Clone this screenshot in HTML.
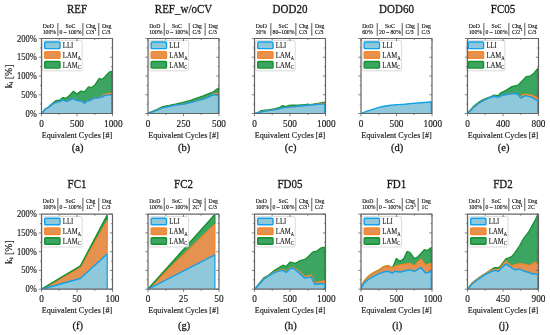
<!DOCTYPE html>
<html><head><meta charset="utf-8"><title>Degradation modes</title>
<style>html,body{margin:0;padding:0;background:#fff;}svg{display:block;}text{stroke:#1a1a1a;stroke-width:0.15px;}text.h{stroke-width:0.14px;fill:#111;stroke:#111;}text.l{stroke-width:0.1px;}text.t{stroke-width:0.28px;}</style></head>
<body><svg width="550" height="335" viewBox="0 0 550 335" font-family='"Liberation Serif", "Times New Roman", serif' fill="#1a1a1a" stroke-linejoin="round">
<rect width="550" height="335" fill="#fff"/>
<clipPath id="cpa"><rect x="41.5" y="38.5" width="71.0" height="75.0"/></clipPath>
<g clip-path="url(#cpa)">
<polygon points="41.6,113.5 41.6,113.4 42.0,113.2 45.2,109.0 48.3,107.2 51.4,104.2 56.1,100.4 59.3,100.4 62.9,97.5 66.1,98.3 69.7,95.1 73.4,91.3 77.0,94.1 80.9,91.0 84.4,91.9 88.5,86.9 91.5,87.7 95.1,84.7 99.3,78.4 101.7,79.6 104.7,76.9 108.9,72.4 111.8,71.2 111.8,71.2 111.8,113.5" fill="#3ca562"/>
<polygon points="41.6,113.5 41.6,113.4 42.0,113.2 45.2,109.2 48.3,107.4 51.4,105.1 54.6,102.8 57.7,102.1 60.3,101.4 62.4,99.8 66.6,101.4 70.2,99.8 73.4,98.6 76.5,100.4 79.6,100.8 82.0,101.4 84.4,103.2 86.8,101.2 90.3,100.2 95.1,97.9 98.7,97.6 101.7,96.2 103.5,94.6 107.1,93.9 111.8,93.1 111.8,113.5" fill="#e5914f"/>
<polygon points="41.6,113.5 41.6,113.4 42.0,113.2 45.2,109.2 48.3,107.4 51.4,105.1 54.6,102.8 57.7,102.1 60.3,101.4 62.4,99.8 66.6,101.4 70.2,99.8 73.4,98.6 76.5,100.4 79.6,100.8 82.0,101.4 84.4,103.2 86.8,101.2 90.3,100.2 95.1,97.9 98.7,97.9 101.7,97.0 104.7,95.5 108.3,94.9 111.8,94.6 111.8,113.5" fill="#8fc8da"/>
<polyline points="41.6,113.4 42.0,113.2 45.2,109.0 48.3,107.2 51.4,104.2 56.1,100.4 59.3,100.4 62.9,97.5 66.1,98.3 69.7,95.1 73.4,91.3 77.0,94.1 80.9,91.0 84.4,91.9 88.5,86.9 91.5,87.7 95.1,84.7 99.3,78.4 101.7,79.6 104.7,76.9 108.9,72.4 111.8,71.2 111.8,71.2" fill="none" stroke="#15902e" stroke-width="1.25" stroke-linejoin="round"/>
<polyline points="41.6,113.4 42.0,113.2 45.2,109.2 48.3,107.4 51.4,105.1 54.6,102.8 57.7,102.1 60.3,101.4 62.4,99.8 66.6,101.4 70.2,99.8 73.4,98.6 76.5,100.4 79.6,100.8 82.0,101.4 84.4,103.2 86.8,101.2 90.3,100.2 95.1,97.9 98.7,97.6 101.7,96.2 103.5,94.6 107.1,93.9 111.8,93.1" fill="none" stroke="#f7862a" stroke-width="1.25" stroke-linejoin="round"/>
<polyline points="41.6,113.4 42.0,113.2 45.2,109.2 48.3,107.4 51.4,105.1 54.6,102.8 57.7,102.1 60.3,101.4 62.4,99.8 66.6,101.4 70.2,99.8 73.4,98.6 76.5,100.4 79.6,100.8 82.0,101.4 84.4,103.2 86.8,101.2 90.3,100.2 95.1,97.9 98.7,97.9 101.7,97.0 104.7,95.5 108.3,94.9 111.8,94.6" fill="none" stroke="#12a0e8" stroke-width="1.45" stroke-linejoin="round"/>
<line x1="111.8" y1="71.2" x2="111.8" y2="93.1" stroke="#15902e" stroke-width="1.2"/>
<line x1="111.8" y1="93.1" x2="111.8" y2="94.6" stroke="#f7862a" stroke-width="1.2"/>
<line x1="111.8" y1="94.6" x2="111.8" y2="113.5" stroke="#12a0e8" stroke-width="1.2"/>
</g>
<rect x="42.7" y="40.4" width="39.4" height="30.4" rx="1.5" fill="#fff" fill-opacity="0.85" stroke="#d0d0d0" stroke-width="0.8"/>
<rect x="44.7" y="42.00" width="15.3" height="6.6" rx="0.9" fill="#8fc8da" stroke="#12a0e8" stroke-width="1.4"/>
<text transform="translate(62.80,48.00) scale(1,1.1)" font-size="6.7" class="l">LLI</text>
<rect x="44.7" y="51.75" width="15.3" height="6.6" rx="0.9" fill="#e5914f" stroke="#f7862a" stroke-width="1.4"/>
<text transform="translate(62.80,57.75) scale(1,1.1)" font-size="6.7" class="l">LAM<tspan font-size="4.6" dy="1.6">A</tspan></text>
<rect x="44.7" y="61.50" width="15.3" height="6.6" rx="0.9" fill="#3ca562" stroke="#15902e" stroke-width="1.4"/>
<text transform="translate(62.80,67.50) scale(1,1.1)" font-size="6.7" class="l">LAM<tspan font-size="4.6" dy="1.6">C</tspan></text>
<rect x="41.5" y="38.5" width="71.0" height="75.0" fill="none" stroke="#646464" stroke-width="1.2"/>
<line x1="38.8" y1="113.5" x2="41.5" y2="113.5" stroke="#646464" stroke-width="0.8"/>
<line x1="109.8" y1="113.5" x2="112.5" y2="113.5" stroke="#646464" stroke-width="0.8"/>
<line x1="40.1" y1="104.1" x2="41.5" y2="104.1" stroke="#646464" stroke-width="0.8"/>
<line x1="111.1" y1="104.1" x2="112.5" y2="104.1" stroke="#646464" stroke-width="0.8"/>
<line x1="38.8" y1="94.8" x2="41.5" y2="94.8" stroke="#646464" stroke-width="0.8"/>
<line x1="109.8" y1="94.8" x2="112.5" y2="94.8" stroke="#646464" stroke-width="0.8"/>
<line x1="40.1" y1="85.4" x2="41.5" y2="85.4" stroke="#646464" stroke-width="0.8"/>
<line x1="111.1" y1="85.4" x2="112.5" y2="85.4" stroke="#646464" stroke-width="0.8"/>
<line x1="38.8" y1="76.0" x2="41.5" y2="76.0" stroke="#646464" stroke-width="0.8"/>
<line x1="109.8" y1="76.0" x2="112.5" y2="76.0" stroke="#646464" stroke-width="0.8"/>
<line x1="40.1" y1="66.6" x2="41.5" y2="66.6" stroke="#646464" stroke-width="0.8"/>
<line x1="111.1" y1="66.6" x2="112.5" y2="66.6" stroke="#646464" stroke-width="0.8"/>
<line x1="38.8" y1="57.2" x2="41.5" y2="57.2" stroke="#646464" stroke-width="0.8"/>
<line x1="109.8" y1="57.2" x2="112.5" y2="57.2" stroke="#646464" stroke-width="0.8"/>
<line x1="40.1" y1="47.9" x2="41.5" y2="47.9" stroke="#646464" stroke-width="0.8"/>
<line x1="111.1" y1="47.9" x2="112.5" y2="47.9" stroke="#646464" stroke-width="0.8"/>
<line x1="38.8" y1="38.5" x2="41.5" y2="38.5" stroke="#646464" stroke-width="0.8"/>
<line x1="109.8" y1="38.5" x2="112.5" y2="38.5" stroke="#646464" stroke-width="0.8"/>
<line x1="41.5" y1="113.5" x2="41.5" y2="116.2" stroke="#646464" stroke-width="0.8"/>
<line x1="41.5" y1="38.5" x2="41.5" y2="41.2" stroke="#646464" stroke-width="0.8"/>
<line x1="59.2" y1="113.5" x2="59.2" y2="115.1" stroke="#646464" stroke-width="0.8"/>
<line x1="59.2" y1="38.5" x2="59.2" y2="40.1" stroke="#646464" stroke-width="0.8"/>
<line x1="77.0" y1="113.5" x2="77.0" y2="116.2" stroke="#646464" stroke-width="0.8"/>
<line x1="77.0" y1="38.5" x2="77.0" y2="41.2" stroke="#646464" stroke-width="0.8"/>
<line x1="94.8" y1="113.5" x2="94.8" y2="115.1" stroke="#646464" stroke-width="0.8"/>
<line x1="94.8" y1="38.5" x2="94.8" y2="40.1" stroke="#646464" stroke-width="0.8"/>
<line x1="112.5" y1="113.5" x2="112.5" y2="116.2" stroke="#646464" stroke-width="0.8"/>
<line x1="112.5" y1="38.5" x2="112.5" y2="41.2" stroke="#646464" stroke-width="0.8"/>
<text transform="translate(41.50,126.50) scale(1,1.1)" font-size="9.3" text-anchor="middle">0</text>
<text transform="translate(77.00,126.50) scale(1,1.1)" font-size="9.3" text-anchor="middle">500</text>
<text transform="translate(113.30,126.50) scale(1,1.1)" font-size="9.3" text-anchor="middle">1000</text>
<text transform="translate(77.00,137.60) scale(1,1.1)" font-size="8.1" text-anchor="middle">Equivalent Cycles [#]</text>
<text transform="translate(77.70,150.50) scale(1,1.0)" font-size="10.5" text-anchor="middle" class="t">(a)</text>
<text transform="translate(77.00,12.75) scale(1,1.12)" font-size="11.0" text-anchor="middle" class="t">REF</text>
<line x1="57.8" y1="22.9" x2="57.8" y2="35.7" stroke="#858585" stroke-width="1.35"/>
<line x1="82.8" y1="22.9" x2="82.8" y2="35.7" stroke="#858585" stroke-width="1.35"/>
<line x1="98.7" y1="22.9" x2="98.7" y2="35.7" stroke="#858585" stroke-width="1.35"/>
<text transform="translate(42.70,27.70) scale(1,1.1)" font-size="5.7" class="h">DoD</text>
<text transform="translate(42.70,34.10) scale(1,1.1)" font-size="5.7" class="h">100%</text>
<text transform="translate(70.50,27.70) scale(1,1.1)" font-size="5.7" text-anchor="middle" class="h">SoC</text>
<text transform="translate(70.50,34.10) scale(1,1.1)" font-size="5.7" text-anchor="middle" class="h">0 – 100%</text>
<text transform="translate(85.90,27.70) scale(1,1.1)" font-size="5.7" class="h">Chg</text>
<text transform="translate(85.90,34.10) scale(1,1.1)" font-size="5.7" class="h">C/3<tspan font-size="4.2" dx="0.3" dy="-2.5">1</tspan></text>
<text transform="translate(102.10,27.70) scale(1,1.1)" font-size="5.7" class="h">Dsg</text>
<text transform="translate(102.10,34.10) scale(1,1.1)" font-size="5.7" class="h">C/3</text>
<text transform="translate(36.80,116.50) scale(1,1.1)" font-size="8.5" text-anchor="end">0%</text>
<text transform="translate(36.80,97.75) scale(1,1.1)" font-size="8.5" text-anchor="end">50%</text>
<text transform="translate(36.80,79.00) scale(1,1.1)" font-size="8.5" text-anchor="end">100%</text>
<text transform="translate(36.80,60.25) scale(1,1.1)" font-size="8.5" text-anchor="end">150%</text>
<text transform="translate(36.80,41.50) scale(1,1.1)" font-size="8.5" text-anchor="end">200%</text>
<text transform="translate(11.5,76.4) rotate(-90)" font-size="9.8" text-anchor="middle">k<tspan font-size="6.2" dy="1.8">i</tspan><tspan dy="-1.8"> [%]</tspan></text>
<clipPath id="cpb"><rect x="148.0" y="38.5" width="71.0" height="75.0"/></clipPath>
<g clip-path="url(#cpb)">
<polygon points="148.0,113.5 148.0,113.4 148.3,113.0 155.3,110.2 162.7,106.5 169.1,105.4 176.6,103.8 184.0,102.0 190.4,100.4 196.9,98.2 203.3,95.9 208.7,93.7 213.0,92.0 218.4,88.0 218.4,113.5" fill="#3ca562"/>
<polygon points="148.0,113.5 148.0,113.4 148.3,113.2 155.3,110.9 161.7,108.1 169.1,106.5 176.6,104.9 184.0,104.1 190.4,102.5 196.9,100.9 203.3,99.1 208.7,96.8 212.4,94.4 218.4,93.4 218.4,113.5" fill="#e5914f"/>
<polygon points="148.0,113.5 148.0,113.4 148.3,113.2 155.3,110.9 161.7,108.1 169.1,106.5 176.6,104.9 184.0,104.1 190.4,102.5 196.9,100.9 203.3,99.1 208.7,97.0 212.4,95.0 218.4,95.0 218.4,113.5" fill="#8fc8da"/>
<polyline points="148.0,113.4 148.3,113.0 155.3,110.2 162.7,106.5 169.1,105.4 176.6,103.8 184.0,102.0 190.4,100.4 196.9,98.2 203.3,95.9 208.7,93.7 213.0,92.0 218.4,88.0" fill="none" stroke="#15902e" stroke-width="1.25" stroke-linejoin="round"/>
<polyline points="148.0,113.4 148.3,113.2 155.3,110.9 161.7,108.1 169.1,106.5 176.6,104.9 184.0,104.1 190.4,102.5 196.9,100.9 203.3,99.1 208.7,96.8 212.4,94.4 218.4,93.4" fill="none" stroke="#f7862a" stroke-width="1.25" stroke-linejoin="round"/>
<polyline points="148.0,113.4 148.3,113.2 155.3,110.9 161.7,108.1 169.1,106.5 176.6,104.9 184.0,104.1 190.4,102.5 196.9,100.9 203.3,99.1 208.7,97.0 212.4,95.0 218.4,95.0" fill="none" stroke="#12a0e8" stroke-width="1.45" stroke-linejoin="round"/>
<line x1="218.4" y1="88.0" x2="218.4" y2="93.4" stroke="#15902e" stroke-width="1.2"/>
<line x1="218.4" y1="93.4" x2="218.4" y2="95.0" stroke="#f7862a" stroke-width="1.2"/>
<line x1="218.4" y1="95.0" x2="218.4" y2="113.5" stroke="#12a0e8" stroke-width="1.2"/>
</g>
<rect x="149.2" y="40.4" width="39.4" height="30.4" rx="1.5" fill="#fff" fill-opacity="0.85" stroke="#d0d0d0" stroke-width="0.8"/>
<rect x="151.2" y="42.00" width="15.3" height="6.6" rx="0.9" fill="#8fc8da" stroke="#12a0e8" stroke-width="1.4"/>
<text transform="translate(169.30,48.00) scale(1,1.1)" font-size="6.7" class="l">LLI</text>
<rect x="151.2" y="51.75" width="15.3" height="6.6" rx="0.9" fill="#e5914f" stroke="#f7862a" stroke-width="1.4"/>
<text transform="translate(169.30,57.75) scale(1,1.1)" font-size="6.7" class="l">LAM<tspan font-size="4.6" dy="1.6">A</tspan></text>
<rect x="151.2" y="61.50" width="15.3" height="6.6" rx="0.9" fill="#3ca562" stroke="#15902e" stroke-width="1.4"/>
<text transform="translate(169.30,67.50) scale(1,1.1)" font-size="6.7" class="l">LAM<tspan font-size="4.6" dy="1.6">C</tspan></text>
<rect x="148.0" y="38.5" width="71.0" height="75.0" fill="none" stroke="#646464" stroke-width="1.2"/>
<line x1="145.3" y1="113.5" x2="148.0" y2="113.5" stroke="#646464" stroke-width="0.8"/>
<line x1="216.3" y1="113.5" x2="219.0" y2="113.5" stroke="#646464" stroke-width="0.8"/>
<line x1="146.6" y1="104.1" x2="148.0" y2="104.1" stroke="#646464" stroke-width="0.8"/>
<line x1="217.6" y1="104.1" x2="219.0" y2="104.1" stroke="#646464" stroke-width="0.8"/>
<line x1="145.3" y1="94.8" x2="148.0" y2="94.8" stroke="#646464" stroke-width="0.8"/>
<line x1="216.3" y1="94.8" x2="219.0" y2="94.8" stroke="#646464" stroke-width="0.8"/>
<line x1="146.6" y1="85.4" x2="148.0" y2="85.4" stroke="#646464" stroke-width="0.8"/>
<line x1="217.6" y1="85.4" x2="219.0" y2="85.4" stroke="#646464" stroke-width="0.8"/>
<line x1="145.3" y1="76.0" x2="148.0" y2="76.0" stroke="#646464" stroke-width="0.8"/>
<line x1="216.3" y1="76.0" x2="219.0" y2="76.0" stroke="#646464" stroke-width="0.8"/>
<line x1="146.6" y1="66.6" x2="148.0" y2="66.6" stroke="#646464" stroke-width="0.8"/>
<line x1="217.6" y1="66.6" x2="219.0" y2="66.6" stroke="#646464" stroke-width="0.8"/>
<line x1="145.3" y1="57.2" x2="148.0" y2="57.2" stroke="#646464" stroke-width="0.8"/>
<line x1="216.3" y1="57.2" x2="219.0" y2="57.2" stroke="#646464" stroke-width="0.8"/>
<line x1="146.6" y1="47.9" x2="148.0" y2="47.9" stroke="#646464" stroke-width="0.8"/>
<line x1="217.6" y1="47.9" x2="219.0" y2="47.9" stroke="#646464" stroke-width="0.8"/>
<line x1="145.3" y1="38.5" x2="148.0" y2="38.5" stroke="#646464" stroke-width="0.8"/>
<line x1="216.3" y1="38.5" x2="219.0" y2="38.5" stroke="#646464" stroke-width="0.8"/>
<line x1="148.0" y1="113.5" x2="148.0" y2="116.2" stroke="#646464" stroke-width="0.8"/>
<line x1="148.0" y1="38.5" x2="148.0" y2="41.2" stroke="#646464" stroke-width="0.8"/>
<line x1="165.8" y1="113.5" x2="165.8" y2="115.1" stroke="#646464" stroke-width="0.8"/>
<line x1="165.8" y1="38.5" x2="165.8" y2="40.1" stroke="#646464" stroke-width="0.8"/>
<line x1="183.5" y1="113.5" x2="183.5" y2="116.2" stroke="#646464" stroke-width="0.8"/>
<line x1="183.5" y1="38.5" x2="183.5" y2="41.2" stroke="#646464" stroke-width="0.8"/>
<line x1="201.2" y1="113.5" x2="201.2" y2="115.1" stroke="#646464" stroke-width="0.8"/>
<line x1="201.2" y1="38.5" x2="201.2" y2="40.1" stroke="#646464" stroke-width="0.8"/>
<line x1="219.0" y1="113.5" x2="219.0" y2="116.2" stroke="#646464" stroke-width="0.8"/>
<line x1="219.0" y1="38.5" x2="219.0" y2="41.2" stroke="#646464" stroke-width="0.8"/>
<text transform="translate(148.00,126.50) scale(1,1.1)" font-size="9.3" text-anchor="middle">0</text>
<text transform="translate(183.50,126.50) scale(1,1.1)" font-size="9.3" text-anchor="middle">250</text>
<text transform="translate(219.00,126.50) scale(1,1.1)" font-size="9.3" text-anchor="middle">500</text>
<text transform="translate(183.50,137.60) scale(1,1.1)" font-size="8.1" text-anchor="middle">Equivalent Cycles [#]</text>
<text transform="translate(184.20,150.50) scale(1,1.0)" font-size="10.5" text-anchor="middle" class="t">(b)</text>
<text transform="translate(183.50,12.75) scale(1,1.12)" font-size="11.0" text-anchor="middle" class="t">REF_w/oCV</text>
<line x1="164.3" y1="22.9" x2="164.3" y2="35.7" stroke="#858585" stroke-width="1.35"/>
<line x1="189.3" y1="22.9" x2="189.3" y2="35.7" stroke="#858585" stroke-width="1.35"/>
<line x1="205.2" y1="22.9" x2="205.2" y2="35.7" stroke="#858585" stroke-width="1.35"/>
<text transform="translate(149.20,27.70) scale(1,1.1)" font-size="5.7" class="h">DoD</text>
<text transform="translate(149.20,34.10) scale(1,1.1)" font-size="5.7" class="h">100%</text>
<text transform="translate(177.00,27.70) scale(1,1.1)" font-size="5.7" text-anchor="middle" class="h">SoC</text>
<text transform="translate(177.00,34.10) scale(1,1.1)" font-size="5.7" text-anchor="middle" class="h">0 – 100%</text>
<text transform="translate(192.40,27.70) scale(1,1.1)" font-size="5.7" class="h">Chg</text>
<text transform="translate(192.40,34.10) scale(1,1.1)" font-size="5.7" class="h">C/3</text>
<text transform="translate(208.60,27.70) scale(1,1.1)" font-size="5.7" class="h">Dsg</text>
<text transform="translate(208.60,34.10) scale(1,1.1)" font-size="5.7" class="h">C/3</text>
<clipPath id="cpc"><rect x="254.5" y="38.5" width="71.0" height="75.0"/></clipPath>
<g clip-path="url(#cpc)">
<polygon points="254.5,113.5 254.5,113.5 258.3,112.4 261.2,110.5 264.8,110.1 268.3,109.8 275.5,108.6 279.8,107.4 282.7,105.6 285.5,106.7 289.1,105.3 292.0,105.1 297.8,105.1 305.5,104.6 307.8,104.2 310.0,104.5 313.3,104.2 321.0,102.8 324.8,102.1 324.8,113.5" fill="#3ca562"/>
<polygon points="254.5,113.5 254.5,113.5 258.3,112.8 261.2,111.7 268.3,110.6 275.5,109.6 279.8,108.5 284.1,107.6 290.0,107.1 297.8,106.3 305.5,105.5 313.3,104.6 321.0,103.6 324.8,103.0 324.8,113.5" fill="#e5914f"/>
<polygon points="254.5,113.5 254.5,113.5 258.3,112.8 261.2,111.7 268.3,110.6 275.5,109.6 279.8,108.5 284.1,107.6 290.0,107.1 297.8,106.3 305.5,105.5 313.3,104.7 321.0,104.1 324.8,103.9 324.8,113.5" fill="#8fc8da"/>
<polyline points="254.5,113.5 258.3,112.4 261.2,110.5 264.8,110.1 268.3,109.8 275.5,108.6 279.8,107.4 282.7,105.6 285.5,106.7 289.1,105.3 292.0,105.1 297.8,105.1 305.5,104.6 307.8,104.2 310.0,104.5 313.3,104.2 321.0,102.8 324.8,102.1" fill="none" stroke="#15902e" stroke-width="1.25" stroke-linejoin="round"/>
<polyline points="254.5,113.5 258.3,112.8 261.2,111.7 268.3,110.6 275.5,109.6 279.8,108.5 284.1,107.6 290.0,107.1 297.8,106.3 305.5,105.5 313.3,104.6 321.0,103.6 324.8,103.0" fill="none" stroke="#f7862a" stroke-width="1.25" stroke-linejoin="round"/>
<polyline points="254.5,113.5 258.3,112.8 261.2,111.7 268.3,110.6 275.5,109.6 279.8,108.5 284.1,107.6 290.0,107.1 297.8,106.3 305.5,105.5 313.3,104.7 321.0,104.1 324.8,103.9" fill="none" stroke="#12a0e8" stroke-width="1.45" stroke-linejoin="round"/>
<line x1="324.8" y1="102.1" x2="324.8" y2="103.0" stroke="#15902e" stroke-width="1.2"/>
<line x1="324.8" y1="103.0" x2="324.8" y2="103.9" stroke="#f7862a" stroke-width="1.2"/>
<line x1="324.8" y1="103.9" x2="324.8" y2="113.5" stroke="#12a0e8" stroke-width="1.2"/>
</g>
<rect x="255.7" y="40.4" width="39.4" height="30.4" rx="1.5" fill="#fff" fill-opacity="0.85" stroke="#d0d0d0" stroke-width="0.8"/>
<rect x="257.7" y="42.00" width="15.3" height="6.6" rx="0.9" fill="#8fc8da" stroke="#12a0e8" stroke-width="1.4"/>
<text transform="translate(275.80,48.00) scale(1,1.1)" font-size="6.7" class="l">LLI</text>
<rect x="257.7" y="51.75" width="15.3" height="6.6" rx="0.9" fill="#e5914f" stroke="#f7862a" stroke-width="1.4"/>
<text transform="translate(275.80,57.75) scale(1,1.1)" font-size="6.7" class="l">LAM<tspan font-size="4.6" dy="1.6">A</tspan></text>
<rect x="257.7" y="61.50" width="15.3" height="6.6" rx="0.9" fill="#3ca562" stroke="#15902e" stroke-width="1.4"/>
<text transform="translate(275.80,67.50) scale(1,1.1)" font-size="6.7" class="l">LAM<tspan font-size="4.6" dy="1.6">C</tspan></text>
<rect x="254.5" y="38.5" width="71.0" height="75.0" fill="none" stroke="#646464" stroke-width="1.2"/>
<line x1="251.8" y1="113.5" x2="254.5" y2="113.5" stroke="#646464" stroke-width="0.8"/>
<line x1="322.8" y1="113.5" x2="325.5" y2="113.5" stroke="#646464" stroke-width="0.8"/>
<line x1="253.1" y1="104.1" x2="254.5" y2="104.1" stroke="#646464" stroke-width="0.8"/>
<line x1="324.1" y1="104.1" x2="325.5" y2="104.1" stroke="#646464" stroke-width="0.8"/>
<line x1="251.8" y1="94.8" x2="254.5" y2="94.8" stroke="#646464" stroke-width="0.8"/>
<line x1="322.8" y1="94.8" x2="325.5" y2="94.8" stroke="#646464" stroke-width="0.8"/>
<line x1="253.1" y1="85.4" x2="254.5" y2="85.4" stroke="#646464" stroke-width="0.8"/>
<line x1="324.1" y1="85.4" x2="325.5" y2="85.4" stroke="#646464" stroke-width="0.8"/>
<line x1="251.8" y1="76.0" x2="254.5" y2="76.0" stroke="#646464" stroke-width="0.8"/>
<line x1="322.8" y1="76.0" x2="325.5" y2="76.0" stroke="#646464" stroke-width="0.8"/>
<line x1="253.1" y1="66.6" x2="254.5" y2="66.6" stroke="#646464" stroke-width="0.8"/>
<line x1="324.1" y1="66.6" x2="325.5" y2="66.6" stroke="#646464" stroke-width="0.8"/>
<line x1="251.8" y1="57.2" x2="254.5" y2="57.2" stroke="#646464" stroke-width="0.8"/>
<line x1="322.8" y1="57.2" x2="325.5" y2="57.2" stroke="#646464" stroke-width="0.8"/>
<line x1="253.1" y1="47.9" x2="254.5" y2="47.9" stroke="#646464" stroke-width="0.8"/>
<line x1="324.1" y1="47.9" x2="325.5" y2="47.9" stroke="#646464" stroke-width="0.8"/>
<line x1="251.8" y1="38.5" x2="254.5" y2="38.5" stroke="#646464" stroke-width="0.8"/>
<line x1="322.8" y1="38.5" x2="325.5" y2="38.5" stroke="#646464" stroke-width="0.8"/>
<line x1="254.5" y1="113.5" x2="254.5" y2="116.2" stroke="#646464" stroke-width="0.8"/>
<line x1="254.5" y1="38.5" x2="254.5" y2="41.2" stroke="#646464" stroke-width="0.8"/>
<line x1="272.2" y1="113.5" x2="272.2" y2="115.1" stroke="#646464" stroke-width="0.8"/>
<line x1="272.2" y1="38.5" x2="272.2" y2="40.1" stroke="#646464" stroke-width="0.8"/>
<line x1="290.0" y1="113.5" x2="290.0" y2="116.2" stroke="#646464" stroke-width="0.8"/>
<line x1="290.0" y1="38.5" x2="290.0" y2="41.2" stroke="#646464" stroke-width="0.8"/>
<line x1="307.8" y1="113.5" x2="307.8" y2="115.1" stroke="#646464" stroke-width="0.8"/>
<line x1="307.8" y1="38.5" x2="307.8" y2="40.1" stroke="#646464" stroke-width="0.8"/>
<line x1="325.5" y1="113.5" x2="325.5" y2="116.2" stroke="#646464" stroke-width="0.8"/>
<line x1="325.5" y1="38.5" x2="325.5" y2="41.2" stroke="#646464" stroke-width="0.8"/>
<text transform="translate(254.50,126.50) scale(1,1.1)" font-size="9.3" text-anchor="middle">0</text>
<text transform="translate(290.00,126.50) scale(1,1.1)" font-size="9.3" text-anchor="middle">500</text>
<text transform="translate(326.30,126.50) scale(1,1.1)" font-size="9.3" text-anchor="middle">1000</text>
<text transform="translate(290.00,137.60) scale(1,1.1)" font-size="8.1" text-anchor="middle">Equivalent Cycles [#]</text>
<text transform="translate(290.70,150.50) scale(1,1.0)" font-size="10.5" text-anchor="middle" class="t">(c)</text>
<text transform="translate(290.00,12.75) scale(1,1.12)" font-size="11.0" text-anchor="middle" class="t">DOD20</text>
<line x1="270.8" y1="22.9" x2="270.8" y2="35.7" stroke="#858585" stroke-width="1.35"/>
<line x1="295.8" y1="22.9" x2="295.8" y2="35.7" stroke="#858585" stroke-width="1.35"/>
<line x1="311.7" y1="22.9" x2="311.7" y2="35.7" stroke="#858585" stroke-width="1.35"/>
<text transform="translate(255.70,27.70) scale(1,1.1)" font-size="5.7" class="h">DoD</text>
<text transform="translate(255.70,34.10) scale(1,1.1)" font-size="5.7" class="h">20%</text>
<text transform="translate(283.50,27.70) scale(1,1.1)" font-size="5.7" text-anchor="middle" class="h">SoC</text>
<text transform="translate(283.50,34.10) scale(1,1.1)" font-size="5.7" text-anchor="middle" class="h">80–100%</text>
<text transform="translate(298.90,27.70) scale(1,1.1)" font-size="5.7" class="h">Chg</text>
<text transform="translate(298.90,34.10) scale(1,1.1)" font-size="5.7" class="h">C/3</text>
<text transform="translate(315.10,27.70) scale(1,1.1)" font-size="5.7" class="h">Dsg</text>
<text transform="translate(315.10,34.10) scale(1,1.1)" font-size="5.7" class="h">C/3</text>
<clipPath id="cpd"><rect x="361.0" y="38.5" width="71.0" height="75.0"/></clipPath>
<g clip-path="url(#cpd)">
<polygon points="361.0,113.5 361.0,113.5 367.2,111.1 374.3,108.9 379.0,107.4 384.0,106.3 391.0,105.2 398.0,104.6 404.4,104.2 412.7,103.4 421.1,102.8 427.7,102.2 431.3,101.8 431.3,113.5" fill="#3ca562"/>
<polygon points="361.0,113.5 361.0,113.5 367.2,111.1 374.3,108.9 379.0,107.4 384.0,106.3 391.0,105.2 398.0,104.6 404.4,104.2 412.7,103.4 421.1,102.8 427.7,102.2 431.3,101.8 431.3,113.5" fill="#e5914f"/>
<polygon points="361.0,113.5 361.0,113.5 367.2,111.1 374.3,108.9 379.0,107.4 384.0,106.3 391.0,105.2 398.0,104.6 404.4,104.2 412.7,103.4 421.1,102.8 427.7,102.2 431.3,101.8 431.3,113.5" fill="#8fc8da"/>
<polyline points="361.0,113.5 367.2,111.1 374.3,108.9 379.0,107.4 384.0,106.3 391.0,105.2 398.0,104.6 404.4,104.2 412.7,103.4 421.1,102.8 427.7,102.2 431.3,101.8" fill="none" stroke="#12a0e8" stroke-width="1.45" stroke-linejoin="round"/>
<line x1="431.3" y1="101.8" x2="431.3" y2="101.8" stroke="#15902e" stroke-width="1.2"/>
<line x1="431.3" y1="101.8" x2="431.3" y2="101.8" stroke="#f7862a" stroke-width="1.2"/>
<line x1="431.3" y1="101.8" x2="431.3" y2="113.5" stroke="#12a0e8" stroke-width="1.2"/>
</g>
<rect x="362.2" y="40.4" width="39.4" height="30.4" rx="1.5" fill="#fff" fill-opacity="0.85" stroke="#d0d0d0" stroke-width="0.8"/>
<rect x="364.2" y="42.00" width="15.3" height="6.6" rx="0.9" fill="#8fc8da" stroke="#12a0e8" stroke-width="1.4"/>
<text transform="translate(382.30,48.00) scale(1,1.1)" font-size="6.7" class="l">LLI</text>
<rect x="364.2" y="51.75" width="15.3" height="6.6" rx="0.9" fill="#e5914f" stroke="#f7862a" stroke-width="1.4"/>
<text transform="translate(382.30,57.75) scale(1,1.1)" font-size="6.7" class="l">LAM<tspan font-size="4.6" dy="1.6">A</tspan></text>
<rect x="364.2" y="61.50" width="15.3" height="6.6" rx="0.9" fill="#3ca562" stroke="#15902e" stroke-width="1.4"/>
<text transform="translate(382.30,67.50) scale(1,1.1)" font-size="6.7" class="l">LAM<tspan font-size="4.6" dy="1.6">C</tspan></text>
<rect x="361.0" y="38.5" width="71.0" height="75.0" fill="none" stroke="#646464" stroke-width="1.2"/>
<line x1="358.3" y1="113.5" x2="361.0" y2="113.5" stroke="#646464" stroke-width="0.8"/>
<line x1="429.3" y1="113.5" x2="432.0" y2="113.5" stroke="#646464" stroke-width="0.8"/>
<line x1="359.6" y1="104.1" x2="361.0" y2="104.1" stroke="#646464" stroke-width="0.8"/>
<line x1="430.6" y1="104.1" x2="432.0" y2="104.1" stroke="#646464" stroke-width="0.8"/>
<line x1="358.3" y1="94.8" x2="361.0" y2="94.8" stroke="#646464" stroke-width="0.8"/>
<line x1="429.3" y1="94.8" x2="432.0" y2="94.8" stroke="#646464" stroke-width="0.8"/>
<line x1="359.6" y1="85.4" x2="361.0" y2="85.4" stroke="#646464" stroke-width="0.8"/>
<line x1="430.6" y1="85.4" x2="432.0" y2="85.4" stroke="#646464" stroke-width="0.8"/>
<line x1="358.3" y1="76.0" x2="361.0" y2="76.0" stroke="#646464" stroke-width="0.8"/>
<line x1="429.3" y1="76.0" x2="432.0" y2="76.0" stroke="#646464" stroke-width="0.8"/>
<line x1="359.6" y1="66.6" x2="361.0" y2="66.6" stroke="#646464" stroke-width="0.8"/>
<line x1="430.6" y1="66.6" x2="432.0" y2="66.6" stroke="#646464" stroke-width="0.8"/>
<line x1="358.3" y1="57.2" x2="361.0" y2="57.2" stroke="#646464" stroke-width="0.8"/>
<line x1="429.3" y1="57.2" x2="432.0" y2="57.2" stroke="#646464" stroke-width="0.8"/>
<line x1="359.6" y1="47.9" x2="361.0" y2="47.9" stroke="#646464" stroke-width="0.8"/>
<line x1="430.6" y1="47.9" x2="432.0" y2="47.9" stroke="#646464" stroke-width="0.8"/>
<line x1="358.3" y1="38.5" x2="361.0" y2="38.5" stroke="#646464" stroke-width="0.8"/>
<line x1="429.3" y1="38.5" x2="432.0" y2="38.5" stroke="#646464" stroke-width="0.8"/>
<line x1="361.0" y1="113.5" x2="361.0" y2="116.2" stroke="#646464" stroke-width="0.8"/>
<line x1="361.0" y1="38.5" x2="361.0" y2="41.2" stroke="#646464" stroke-width="0.8"/>
<line x1="378.8" y1="113.5" x2="378.8" y2="115.1" stroke="#646464" stroke-width="0.8"/>
<line x1="378.8" y1="38.5" x2="378.8" y2="40.1" stroke="#646464" stroke-width="0.8"/>
<line x1="396.5" y1="113.5" x2="396.5" y2="116.2" stroke="#646464" stroke-width="0.8"/>
<line x1="396.5" y1="38.5" x2="396.5" y2="41.2" stroke="#646464" stroke-width="0.8"/>
<line x1="414.2" y1="113.5" x2="414.2" y2="115.1" stroke="#646464" stroke-width="0.8"/>
<line x1="414.2" y1="38.5" x2="414.2" y2="40.1" stroke="#646464" stroke-width="0.8"/>
<line x1="432.0" y1="113.5" x2="432.0" y2="116.2" stroke="#646464" stroke-width="0.8"/>
<line x1="432.0" y1="38.5" x2="432.0" y2="41.2" stroke="#646464" stroke-width="0.8"/>
<text transform="translate(361.00,126.50) scale(1,1.1)" font-size="9.3" text-anchor="middle">0</text>
<text transform="translate(396.50,126.50) scale(1,1.1)" font-size="9.3" text-anchor="middle">500</text>
<text transform="translate(432.80,126.50) scale(1,1.1)" font-size="9.3" text-anchor="middle">1000</text>
<text transform="translate(396.50,137.60) scale(1,1.1)" font-size="8.1" text-anchor="middle">Equivalent Cycles [#]</text>
<text transform="translate(397.20,150.50) scale(1,1.0)" font-size="10.5" text-anchor="middle" class="t">(d)</text>
<text transform="translate(396.50,12.75) scale(1,1.12)" font-size="11.0" text-anchor="middle" class="t">DOD60</text>
<line x1="377.3" y1="22.9" x2="377.3" y2="35.7" stroke="#858585" stroke-width="1.35"/>
<line x1="402.3" y1="22.9" x2="402.3" y2="35.7" stroke="#858585" stroke-width="1.35"/>
<line x1="418.2" y1="22.9" x2="418.2" y2="35.7" stroke="#858585" stroke-width="1.35"/>
<text transform="translate(362.20,27.70) scale(1,1.1)" font-size="5.7" class="h">DoD</text>
<text transform="translate(362.20,34.10) scale(1,1.1)" font-size="5.7" class="h">60%</text>
<text transform="translate(390.00,27.70) scale(1,1.1)" font-size="5.7" text-anchor="middle" class="h">SoC</text>
<text transform="translate(390.00,34.10) scale(1,1.1)" font-size="5.7" text-anchor="middle" class="h">20 – 80%</text>
<text transform="translate(405.40,27.70) scale(1,1.1)" font-size="5.7" class="h">Chg</text>
<text transform="translate(405.40,34.10) scale(1,1.1)" font-size="5.7" class="h">C/3</text>
<text transform="translate(421.60,27.70) scale(1,1.1)" font-size="5.7" class="h">Dsg</text>
<text transform="translate(421.60,34.10) scale(1,1.1)" font-size="5.7" class="h">C/3</text>
<clipPath id="cpe"><rect x="467.5" y="38.5" width="71.0" height="75.0"/></clipPath>
<g clip-path="url(#cpe)">
<polygon points="467.2,113.5 467.2,113.4 468.6,112.0 473.3,106.6 478.5,102.4 483.7,99.3 486.3,98.3 489.4,97.2 494.1,95.1 498.3,95.6 500.0,93.3 506.0,90.4 511.9,86.6 517.9,85.1 522.4,80.7 526.1,76.6 529.9,76.2 533.6,73.6 537.8,68.5 537.8,113.5" fill="#3ca562"/>
<polygon points="467.2,113.5 467.2,113.4 468.6,112.4 473.3,107.7 478.5,103.5 483.7,100.4 487.9,98.3 494.1,96.2 498.3,97.2 500.0,96.0 506.0,94.5 514.9,93.3 517.9,94.4 520.9,97.3 522.4,94.8 526.1,94.1 531.3,95.1 537.8,97.8 537.8,113.5" fill="#e5914f"/>
<polygon points="467.2,113.5 467.2,113.4 468.6,112.4 473.3,107.7 478.5,103.5 483.7,100.4 487.9,98.3 494.1,96.2 498.3,97.2 500.0,96.0 506.0,94.5 514.9,93.3 517.9,94.5 520.9,98.1 525.4,95.6 531.3,97.1 537.8,100.8 537.8,113.5" fill="#8fc8da"/>
<polyline points="467.2,113.4 468.6,112.0 473.3,106.6 478.5,102.4 483.7,99.3 486.3,98.3 489.4,97.2 494.1,95.1 498.3,95.6 500.0,93.3 506.0,90.4 511.9,86.6 517.9,85.1 522.4,80.7 526.1,76.6 529.9,76.2 533.6,73.6 537.8,68.5" fill="none" stroke="#15902e" stroke-width="1.25" stroke-linejoin="round"/>
<polyline points="467.2,113.4 468.6,112.4 473.3,107.7 478.5,103.5 483.7,100.4 487.9,98.3 494.1,96.2 498.3,97.2 500.0,96.0 506.0,94.5 514.9,93.3 517.9,94.4 520.9,97.3 522.4,94.8 526.1,94.1 531.3,95.1 537.8,97.8" fill="none" stroke="#f7862a" stroke-width="1.25" stroke-linejoin="round"/>
<polyline points="467.2,113.4 468.6,112.4 473.3,107.7 478.5,103.5 483.7,100.4 487.9,98.3 494.1,96.2 498.3,97.2 500.0,96.0 506.0,94.5 514.9,93.3 517.9,94.5 520.9,98.1 525.4,95.6 531.3,97.1 537.8,100.8" fill="none" stroke="#12a0e8" stroke-width="1.45" stroke-linejoin="round"/>
<line x1="537.8" y1="68.5" x2="537.8" y2="97.8" stroke="#15902e" stroke-width="1.2"/>
<line x1="537.8" y1="97.8" x2="537.8" y2="100.8" stroke="#f7862a" stroke-width="1.2"/>
<line x1="537.8" y1="100.8" x2="537.8" y2="113.5" stroke="#12a0e8" stroke-width="1.2"/>
</g>
<rect x="466.3" y="40.4" width="38.6" height="30.4" rx="1.5" fill="#fff" fill-opacity="0.85" stroke="#d0d0d0" stroke-width="0.8"/>
<rect x="468.3" y="42.00" width="15.3" height="6.6" rx="0.9" fill="#8fc8da" stroke="#12a0e8" stroke-width="1.4"/>
<text transform="translate(486.40,48.00) scale(1,1.1)" font-size="6.7" class="l">LLI</text>
<rect x="468.3" y="51.75" width="15.3" height="6.6" rx="0.9" fill="#e5914f" stroke="#f7862a" stroke-width="1.4"/>
<text transform="translate(486.40,57.75) scale(1,1.1)" font-size="6.7" class="l">LAM<tspan font-size="4.6" dy="1.6">A</tspan></text>
<rect x="468.3" y="61.50" width="15.3" height="6.6" rx="0.9" fill="#3ca562" stroke="#15902e" stroke-width="1.4"/>
<text transform="translate(486.40,67.50) scale(1,1.1)" font-size="6.7" class="l">LAM<tspan font-size="4.6" dy="1.6">C</tspan></text>
<rect x="467.5" y="38.5" width="71.0" height="75.0" fill="none" stroke="#646464" stroke-width="1.2"/>
<line x1="464.8" y1="113.5" x2="467.5" y2="113.5" stroke="#646464" stroke-width="0.8"/>
<line x1="535.8" y1="113.5" x2="538.5" y2="113.5" stroke="#646464" stroke-width="0.8"/>
<line x1="466.1" y1="104.1" x2="467.5" y2="104.1" stroke="#646464" stroke-width="0.8"/>
<line x1="537.1" y1="104.1" x2="538.5" y2="104.1" stroke="#646464" stroke-width="0.8"/>
<line x1="464.8" y1="94.8" x2="467.5" y2="94.8" stroke="#646464" stroke-width="0.8"/>
<line x1="535.8" y1="94.8" x2="538.5" y2="94.8" stroke="#646464" stroke-width="0.8"/>
<line x1="466.1" y1="85.4" x2="467.5" y2="85.4" stroke="#646464" stroke-width="0.8"/>
<line x1="537.1" y1="85.4" x2="538.5" y2="85.4" stroke="#646464" stroke-width="0.8"/>
<line x1="464.8" y1="76.0" x2="467.5" y2="76.0" stroke="#646464" stroke-width="0.8"/>
<line x1="535.8" y1="76.0" x2="538.5" y2="76.0" stroke="#646464" stroke-width="0.8"/>
<line x1="466.1" y1="66.6" x2="467.5" y2="66.6" stroke="#646464" stroke-width="0.8"/>
<line x1="537.1" y1="66.6" x2="538.5" y2="66.6" stroke="#646464" stroke-width="0.8"/>
<line x1="464.8" y1="57.2" x2="467.5" y2="57.2" stroke="#646464" stroke-width="0.8"/>
<line x1="535.8" y1="57.2" x2="538.5" y2="57.2" stroke="#646464" stroke-width="0.8"/>
<line x1="466.1" y1="47.9" x2="467.5" y2="47.9" stroke="#646464" stroke-width="0.8"/>
<line x1="537.1" y1="47.9" x2="538.5" y2="47.9" stroke="#646464" stroke-width="0.8"/>
<line x1="464.8" y1="38.5" x2="467.5" y2="38.5" stroke="#646464" stroke-width="0.8"/>
<line x1="535.8" y1="38.5" x2="538.5" y2="38.5" stroke="#646464" stroke-width="0.8"/>
<line x1="467.5" y1="113.5" x2="467.5" y2="116.2" stroke="#646464" stroke-width="0.8"/>
<line x1="467.5" y1="38.5" x2="467.5" y2="41.2" stroke="#646464" stroke-width="0.8"/>
<line x1="485.2" y1="113.5" x2="485.2" y2="115.1" stroke="#646464" stroke-width="0.8"/>
<line x1="485.2" y1="38.5" x2="485.2" y2="40.1" stroke="#646464" stroke-width="0.8"/>
<line x1="503.0" y1="113.5" x2="503.0" y2="116.2" stroke="#646464" stroke-width="0.8"/>
<line x1="503.0" y1="38.5" x2="503.0" y2="41.2" stroke="#646464" stroke-width="0.8"/>
<line x1="520.8" y1="113.5" x2="520.8" y2="115.1" stroke="#646464" stroke-width="0.8"/>
<line x1="520.8" y1="38.5" x2="520.8" y2="40.1" stroke="#646464" stroke-width="0.8"/>
<line x1="538.5" y1="113.5" x2="538.5" y2="116.2" stroke="#646464" stroke-width="0.8"/>
<line x1="538.5" y1="38.5" x2="538.5" y2="41.2" stroke="#646464" stroke-width="0.8"/>
<text transform="translate(467.50,126.50) scale(1,1.1)" font-size="9.3" text-anchor="middle">0</text>
<text transform="translate(503.00,126.50) scale(1,1.1)" font-size="9.3" text-anchor="middle">400</text>
<text transform="translate(538.50,126.50) scale(1,1.1)" font-size="9.3" text-anchor="middle">800</text>
<text transform="translate(503.00,137.60) scale(1,1.1)" font-size="8.1" text-anchor="middle">Equivalent Cycles [#]</text>
<text transform="translate(503.70,150.50) scale(1,1.0)" font-size="10.5" text-anchor="middle" class="t">(e)</text>
<text transform="translate(503.00,12.75) scale(1,1.12)" font-size="11.0" text-anchor="middle" class="t">FC05</text>
<line x1="483.8" y1="22.9" x2="483.8" y2="35.7" stroke="#858585" stroke-width="1.35"/>
<line x1="508.8" y1="22.9" x2="508.8" y2="35.7" stroke="#858585" stroke-width="1.35"/>
<line x1="524.7" y1="22.9" x2="524.7" y2="35.7" stroke="#858585" stroke-width="1.35"/>
<text transform="translate(468.70,27.70) scale(1,1.1)" font-size="5.7" class="h">DoD</text>
<text transform="translate(468.70,34.10) scale(1,1.1)" font-size="5.7" class="h">100%</text>
<text transform="translate(496.50,27.70) scale(1,1.1)" font-size="5.7" text-anchor="middle" class="h">SoC</text>
<text transform="translate(496.50,34.10) scale(1,1.1)" font-size="5.7" text-anchor="middle" class="h">0 – 100%</text>
<text transform="translate(511.90,27.70) scale(1,1.1)" font-size="5.7" class="h">Chg</text>
<text transform="translate(511.90,34.10) scale(1,1.1)" font-size="5.7" class="h">C/2<tspan font-size="4.2" dx="0.3" dy="-2.5">1</tspan></text>
<text transform="translate(528.10,27.70) scale(1,1.1)" font-size="5.7" class="h">Dsg</text>
<text transform="translate(528.10,34.10) scale(1,1.1)" font-size="5.7" class="h">C/3</text>
<clipPath id="cpf"><rect x="41.5" y="214.2" width="71.0" height="75.0"/></clipPath>
<g clip-path="url(#cpf)">
<polygon points="41.6,289.2 41.6,289.2 80.5,265.8 107.2,215.2 107.2,289.2" fill="#3ca562"/>
<polygon points="41.6,289.2 41.6,289.2 80.3,267.5 107.2,220.7 107.2,289.2" fill="#e5914f"/>
<polygon points="41.6,289.2 41.6,289.2 80.3,278.5 107.2,254.0 107.2,289.2" fill="#8fc8da"/>
<polyline points="41.6,289.2 80.3,267.5 107.2,220.7" fill="none" stroke="#f7862a" stroke-width="1.25" stroke-linejoin="round"/>
<polyline points="41.6,289.2 80.5,265.8 107.2,215.2" fill="none" stroke="#15902e" stroke-width="1.5" stroke-linejoin="round"/>
<polyline points="41.6,289.2 80.3,278.5 107.2,254.0" fill="none" stroke="#12a0e8" stroke-width="1.45" stroke-linejoin="round"/>
<line x1="107.2" y1="215.2" x2="107.2" y2="220.7" stroke="#15902e" stroke-width="1.2"/>
<line x1="107.2" y1="220.7" x2="107.2" y2="254.0" stroke="#f7862a" stroke-width="1.2"/>
<line x1="107.2" y1="254.0" x2="107.2" y2="289.2" stroke="#12a0e8" stroke-width="1.2"/>
</g>
<rect x="42.7" y="216.6" width="39.4" height="30.4" rx="1.5" fill="#fff" fill-opacity="0.85" stroke="#d0d0d0" stroke-width="0.8"/>
<rect x="44.7" y="218.20" width="15.3" height="6.6" rx="0.9" fill="#8fc8da" stroke="#12a0e8" stroke-width="1.4"/>
<text transform="translate(62.80,224.20) scale(1,1.1)" font-size="6.7" class="l">LLI</text>
<rect x="44.7" y="227.95" width="15.3" height="6.6" rx="0.9" fill="#e5914f" stroke="#f7862a" stroke-width="1.4"/>
<text transform="translate(62.80,233.95) scale(1,1.1)" font-size="6.7" class="l">LAM<tspan font-size="4.6" dy="1.6">A</tspan></text>
<rect x="44.7" y="237.70" width="15.3" height="6.6" rx="0.9" fill="#3ca562" stroke="#15902e" stroke-width="1.4"/>
<text transform="translate(62.80,243.70) scale(1,1.1)" font-size="6.7" class="l">LAM<tspan font-size="4.6" dy="1.6">C</tspan></text>
<rect x="41.5" y="214.2" width="71.0" height="75.0" fill="none" stroke="#646464" stroke-width="1.2"/>
<line x1="38.8" y1="289.2" x2="41.5" y2="289.2" stroke="#646464" stroke-width="0.8"/>
<line x1="109.8" y1="289.2" x2="112.5" y2="289.2" stroke="#646464" stroke-width="0.8"/>
<line x1="40.1" y1="279.8" x2="41.5" y2="279.8" stroke="#646464" stroke-width="0.8"/>
<line x1="111.1" y1="279.8" x2="112.5" y2="279.8" stroke="#646464" stroke-width="0.8"/>
<line x1="38.8" y1="270.4" x2="41.5" y2="270.4" stroke="#646464" stroke-width="0.8"/>
<line x1="109.8" y1="270.4" x2="112.5" y2="270.4" stroke="#646464" stroke-width="0.8"/>
<line x1="40.1" y1="261.1" x2="41.5" y2="261.1" stroke="#646464" stroke-width="0.8"/>
<line x1="111.1" y1="261.1" x2="112.5" y2="261.1" stroke="#646464" stroke-width="0.8"/>
<line x1="38.8" y1="251.7" x2="41.5" y2="251.7" stroke="#646464" stroke-width="0.8"/>
<line x1="109.8" y1="251.7" x2="112.5" y2="251.7" stroke="#646464" stroke-width="0.8"/>
<line x1="40.1" y1="242.3" x2="41.5" y2="242.3" stroke="#646464" stroke-width="0.8"/>
<line x1="111.1" y1="242.3" x2="112.5" y2="242.3" stroke="#646464" stroke-width="0.8"/>
<line x1="38.8" y1="232.9" x2="41.5" y2="232.9" stroke="#646464" stroke-width="0.8"/>
<line x1="109.8" y1="232.9" x2="112.5" y2="232.9" stroke="#646464" stroke-width="0.8"/>
<line x1="40.1" y1="223.6" x2="41.5" y2="223.6" stroke="#646464" stroke-width="0.8"/>
<line x1="111.1" y1="223.6" x2="112.5" y2="223.6" stroke="#646464" stroke-width="0.8"/>
<line x1="38.8" y1="214.2" x2="41.5" y2="214.2" stroke="#646464" stroke-width="0.8"/>
<line x1="109.8" y1="214.2" x2="112.5" y2="214.2" stroke="#646464" stroke-width="0.8"/>
<line x1="41.5" y1="289.2" x2="41.5" y2="291.9" stroke="#646464" stroke-width="0.8"/>
<line x1="41.5" y1="214.2" x2="41.5" y2="216.9" stroke="#646464" stroke-width="0.8"/>
<line x1="59.2" y1="289.2" x2="59.2" y2="290.8" stroke="#646464" stroke-width="0.8"/>
<line x1="59.2" y1="214.2" x2="59.2" y2="215.8" stroke="#646464" stroke-width="0.8"/>
<line x1="77.0" y1="289.2" x2="77.0" y2="291.9" stroke="#646464" stroke-width="0.8"/>
<line x1="77.0" y1="214.2" x2="77.0" y2="216.9" stroke="#646464" stroke-width="0.8"/>
<line x1="94.8" y1="289.2" x2="94.8" y2="290.8" stroke="#646464" stroke-width="0.8"/>
<line x1="94.8" y1="214.2" x2="94.8" y2="215.8" stroke="#646464" stroke-width="0.8"/>
<line x1="112.5" y1="289.2" x2="112.5" y2="291.9" stroke="#646464" stroke-width="0.8"/>
<line x1="112.5" y1="214.2" x2="112.5" y2="216.9" stroke="#646464" stroke-width="0.8"/>
<text transform="translate(41.50,302.10) scale(1,1.1)" font-size="9.3" text-anchor="middle">0</text>
<text transform="translate(77.00,302.10) scale(1,1.1)" font-size="9.3" text-anchor="middle">50</text>
<text transform="translate(112.50,302.10) scale(1,1.1)" font-size="9.3" text-anchor="middle">100</text>
<text transform="translate(77.00,313.20) scale(1,1.1)" font-size="8.1" text-anchor="middle">Equivalent Cycles [#]</text>
<text transform="translate(77.70,328.80) scale(1,1.0)" font-size="10.5" text-anchor="middle" class="t">(f)</text>
<text transform="translate(77.00,188.35) scale(1,1.12)" font-size="11.0" text-anchor="middle" class="t">FC1</text>
<line x1="57.8" y1="198.1" x2="57.8" y2="210.9" stroke="#858585" stroke-width="1.35"/>
<line x1="82.8" y1="198.1" x2="82.8" y2="210.9" stroke="#858585" stroke-width="1.35"/>
<line x1="98.7" y1="198.1" x2="98.7" y2="210.9" stroke="#858585" stroke-width="1.35"/>
<text transform="translate(42.70,202.90) scale(1,1.1)" font-size="5.7" class="h">DoD</text>
<text transform="translate(42.70,209.30) scale(1,1.1)" font-size="5.7" class="h">100%</text>
<text transform="translate(70.50,202.90) scale(1,1.1)" font-size="5.7" text-anchor="middle" class="h">SoC</text>
<text transform="translate(70.50,209.30) scale(1,1.1)" font-size="5.7" text-anchor="middle" class="h">0 – 100%</text>
<text transform="translate(85.90,202.90) scale(1,1.1)" font-size="5.7" class="h">Chg</text>
<text transform="translate(85.90,209.30) scale(1,1.1)" font-size="5.7" class="h">1C<tspan font-size="4.2" dx="0.3" dy="-2.5">1</tspan></text>
<text transform="translate(102.10,202.90) scale(1,1.1)" font-size="5.7" class="h">Dsg</text>
<text transform="translate(102.10,209.30) scale(1,1.1)" font-size="5.7" class="h">C/3</text>
<text transform="translate(36.80,292.20) scale(1,1.1)" font-size="8.5" text-anchor="end">0%</text>
<text transform="translate(36.80,273.45) scale(1,1.1)" font-size="8.5" text-anchor="end">50%</text>
<text transform="translate(36.80,254.70) scale(1,1.1)" font-size="8.5" text-anchor="end">100%</text>
<text transform="translate(36.80,235.95) scale(1,1.1)" font-size="8.5" text-anchor="end">150%</text>
<text transform="translate(36.80,217.20) scale(1,1.1)" font-size="8.5" text-anchor="end">200%</text>
<text transform="translate(11.5,252.1) rotate(-90)" font-size="9.8" text-anchor="middle">k<tspan font-size="6.2" dy="1.8">i</tspan><tspan dy="-1.8"> [%]</tspan></text>
<clipPath id="cpg"><rect x="148.0" y="214.2" width="71.0" height="75.0"/></clipPath>
<g clip-path="url(#cpg)">
<polygon points="148.0,289.2 148.0,289.2 214.9,214.5 214.9,289.2" fill="#3ca562"/>
<polygon points="148.0,289.2 148.0,289.2 214.9,224.2 214.9,289.2" fill="#e5914f"/>
<polygon points="148.0,289.2 148.0,289.2 214.9,254.8 214.9,289.2" fill="#8fc8da"/>
<polyline points="148.0,289.2 214.9,224.2" fill="none" stroke="#f7862a" stroke-width="1.25" stroke-linejoin="round"/>
<polyline points="148.0,289.2 214.9,214.5" fill="none" stroke="#15902e" stroke-width="1.5" stroke-linejoin="round"/>
<polyline points="148.0,289.2 214.9,254.8" fill="none" stroke="#12a0e8" stroke-width="1.45" stroke-linejoin="round"/>
<line x1="214.9" y1="214.5" x2="214.9" y2="224.2" stroke="#15902e" stroke-width="1.2"/>
<line x1="214.9" y1="224.2" x2="214.9" y2="254.8" stroke="#f7862a" stroke-width="1.2"/>
<line x1="214.9" y1="254.8" x2="214.9" y2="289.2" stroke="#12a0e8" stroke-width="1.2"/>
</g>
<rect x="149.2" y="216.6" width="39.4" height="30.4" rx="1.5" fill="#fff" fill-opacity="0.85" stroke="#d0d0d0" stroke-width="0.8"/>
<rect x="151.2" y="218.20" width="15.3" height="6.6" rx="0.9" fill="#8fc8da" stroke="#12a0e8" stroke-width="1.4"/>
<text transform="translate(169.30,224.20) scale(1,1.1)" font-size="6.7" class="l">LLI</text>
<rect x="151.2" y="227.95" width="15.3" height="6.6" rx="0.9" fill="#e5914f" stroke="#f7862a" stroke-width="1.4"/>
<text transform="translate(169.30,233.95) scale(1,1.1)" font-size="6.7" class="l">LAM<tspan font-size="4.6" dy="1.6">A</tspan></text>
<rect x="151.2" y="237.70" width="15.3" height="6.6" rx="0.9" fill="#3ca562" stroke="#15902e" stroke-width="1.4"/>
<text transform="translate(169.30,243.70) scale(1,1.1)" font-size="6.7" class="l">LAM<tspan font-size="4.6" dy="1.6">C</tspan></text>
<rect x="148.0" y="214.2" width="71.0" height="75.0" fill="none" stroke="#646464" stroke-width="1.2"/>
<line x1="145.3" y1="289.2" x2="148.0" y2="289.2" stroke="#646464" stroke-width="0.8"/>
<line x1="216.3" y1="289.2" x2="219.0" y2="289.2" stroke="#646464" stroke-width="0.8"/>
<line x1="146.6" y1="279.8" x2="148.0" y2="279.8" stroke="#646464" stroke-width="0.8"/>
<line x1="217.6" y1="279.8" x2="219.0" y2="279.8" stroke="#646464" stroke-width="0.8"/>
<line x1="145.3" y1="270.4" x2="148.0" y2="270.4" stroke="#646464" stroke-width="0.8"/>
<line x1="216.3" y1="270.4" x2="219.0" y2="270.4" stroke="#646464" stroke-width="0.8"/>
<line x1="146.6" y1="261.1" x2="148.0" y2="261.1" stroke="#646464" stroke-width="0.8"/>
<line x1="217.6" y1="261.1" x2="219.0" y2="261.1" stroke="#646464" stroke-width="0.8"/>
<line x1="145.3" y1="251.7" x2="148.0" y2="251.7" stroke="#646464" stroke-width="0.8"/>
<line x1="216.3" y1="251.7" x2="219.0" y2="251.7" stroke="#646464" stroke-width="0.8"/>
<line x1="146.6" y1="242.3" x2="148.0" y2="242.3" stroke="#646464" stroke-width="0.8"/>
<line x1="217.6" y1="242.3" x2="219.0" y2="242.3" stroke="#646464" stroke-width="0.8"/>
<line x1="145.3" y1="232.9" x2="148.0" y2="232.9" stroke="#646464" stroke-width="0.8"/>
<line x1="216.3" y1="232.9" x2="219.0" y2="232.9" stroke="#646464" stroke-width="0.8"/>
<line x1="146.6" y1="223.6" x2="148.0" y2="223.6" stroke="#646464" stroke-width="0.8"/>
<line x1="217.6" y1="223.6" x2="219.0" y2="223.6" stroke="#646464" stroke-width="0.8"/>
<line x1="145.3" y1="214.2" x2="148.0" y2="214.2" stroke="#646464" stroke-width="0.8"/>
<line x1="216.3" y1="214.2" x2="219.0" y2="214.2" stroke="#646464" stroke-width="0.8"/>
<line x1="148.0" y1="289.2" x2="148.0" y2="291.9" stroke="#646464" stroke-width="0.8"/>
<line x1="148.0" y1="214.2" x2="148.0" y2="216.9" stroke="#646464" stroke-width="0.8"/>
<line x1="165.8" y1="289.2" x2="165.8" y2="290.8" stroke="#646464" stroke-width="0.8"/>
<line x1="165.8" y1="214.2" x2="165.8" y2="215.8" stroke="#646464" stroke-width="0.8"/>
<line x1="183.5" y1="289.2" x2="183.5" y2="291.9" stroke="#646464" stroke-width="0.8"/>
<line x1="183.5" y1="214.2" x2="183.5" y2="216.9" stroke="#646464" stroke-width="0.8"/>
<line x1="201.2" y1="289.2" x2="201.2" y2="290.8" stroke="#646464" stroke-width="0.8"/>
<line x1="201.2" y1="214.2" x2="201.2" y2="215.8" stroke="#646464" stroke-width="0.8"/>
<line x1="219.0" y1="289.2" x2="219.0" y2="291.9" stroke="#646464" stroke-width="0.8"/>
<line x1="219.0" y1="214.2" x2="219.0" y2="216.9" stroke="#646464" stroke-width="0.8"/>
<text transform="translate(148.00,302.10) scale(1,1.1)" font-size="9.3" text-anchor="middle">0</text>
<text transform="translate(183.50,302.10) scale(1,1.1)" font-size="9.3" text-anchor="middle">25</text>
<text transform="translate(219.00,302.10) scale(1,1.1)" font-size="9.3" text-anchor="middle">50</text>
<text transform="translate(183.50,313.20) scale(1,1.1)" font-size="8.1" text-anchor="middle">Equivalent Cycles [#]</text>
<text transform="translate(184.20,328.80) scale(1,1.0)" font-size="10.5" text-anchor="middle" class="t">(g)</text>
<text transform="translate(183.50,188.35) scale(1,1.12)" font-size="11.0" text-anchor="middle" class="t">FC2</text>
<line x1="164.3" y1="198.1" x2="164.3" y2="210.9" stroke="#858585" stroke-width="1.35"/>
<line x1="189.3" y1="198.1" x2="189.3" y2="210.9" stroke="#858585" stroke-width="1.35"/>
<line x1="205.2" y1="198.1" x2="205.2" y2="210.9" stroke="#858585" stroke-width="1.35"/>
<text transform="translate(149.20,202.90) scale(1,1.1)" font-size="5.7" class="h">DoD</text>
<text transform="translate(149.20,209.30) scale(1,1.1)" font-size="5.7" class="h">100%</text>
<text transform="translate(177.00,202.90) scale(1,1.1)" font-size="5.7" text-anchor="middle" class="h">SoC</text>
<text transform="translate(177.00,209.30) scale(1,1.1)" font-size="5.7" text-anchor="middle" class="h">0 – 100%</text>
<text transform="translate(192.40,202.90) scale(1,1.1)" font-size="5.7" class="h">Chg</text>
<text transform="translate(192.40,209.30) scale(1,1.1)" font-size="5.7" class="h">2C<tspan font-size="4.2" dx="0.3" dy="-2.5">1</tspan></text>
<text transform="translate(208.60,202.90) scale(1,1.1)" font-size="5.7" class="h">Dsg</text>
<text transform="translate(208.60,209.30) scale(1,1.1)" font-size="5.7" class="h">C/3</text>
<clipPath id="cph"><rect x="254.5" y="214.2" width="71.0" height="75.0"/></clipPath>
<g clip-path="url(#cph)">
<polygon points="254.4,289.2 254.4,289.2 255.4,288.3 258.8,283.8 263.5,278.1 268.3,275.2 273.1,271.4 277.9,268.3 282.9,265.2 286.3,266.5 290.1,262.0 295.5,263.3 300.2,260.5 304.9,259.4 308.7,256.3 312.6,252.1 316.5,251.2 321.2,247.8 324.8,247.0 324.8,289.2" fill="#3ca562"/>
<polygon points="254.4,289.2 254.4,289.2 255.4,288.5 258.8,284.5 263.5,279.2 268.3,275.7 273.1,272.8 277.9,270.7 282.7,269.5 286.5,271.4 290.1,268.0 293.2,267.3 297.1,269.5 304.9,276.5 311.1,275.0 315.0,282.7 320.4,281.6 324.8,280.7 324.8,289.2" fill="#e5914f"/>
<polygon points="254.4,289.2 254.4,289.2 255.4,288.6 258.8,284.7 263.5,279.5 268.3,276.1 273.1,273.3 277.9,271.4 282.7,270.4 286.5,272.3 290.1,268.7 293.2,268.0 297.1,271.1 304.9,278.1 311.1,277.0 315.0,284.3 320.4,283.8 324.8,283.8 324.8,289.2" fill="#8fc8da"/>
<polyline points="254.4,289.2 255.4,288.3 258.8,283.8 263.5,278.1 268.3,275.2 273.1,271.4 277.9,268.3 282.9,265.2 286.3,266.5 290.1,262.0 295.5,263.3 300.2,260.5 304.9,259.4 308.7,256.3 312.6,252.1 316.5,251.2 321.2,247.8 324.8,247.0" fill="none" stroke="#15902e" stroke-width="1.25" stroke-linejoin="round"/>
<polyline points="254.4,289.2 255.4,288.5 258.8,284.5 263.5,279.2 268.3,275.7 273.1,272.8 277.9,270.7 282.7,269.5 286.5,271.4 290.1,268.0 293.2,267.3 297.1,269.5 304.9,276.5 311.1,275.0 315.0,282.7 320.4,281.6 324.8,280.7" fill="none" stroke="#f7862a" stroke-width="1.25" stroke-linejoin="round"/>
<polyline points="254.4,289.2 255.4,288.6 258.8,284.7 263.5,279.5 268.3,276.1 273.1,273.3 277.9,271.4 282.7,270.4 286.5,272.3 290.1,268.7 293.2,268.0 297.1,271.1 304.9,278.1 311.1,277.0 315.0,284.3 320.4,283.8 324.8,283.8" fill="none" stroke="#12a0e8" stroke-width="1.45" stroke-linejoin="round"/>
<line x1="324.8" y1="247.0" x2="324.8" y2="280.7" stroke="#15902e" stroke-width="1.2"/>
<line x1="324.8" y1="280.7" x2="324.8" y2="283.8" stroke="#f7862a" stroke-width="1.2"/>
<line x1="324.8" y1="283.8" x2="324.8" y2="289.2" stroke="#12a0e8" stroke-width="1.2"/>
</g>
<rect x="255.7" y="216.6" width="39.4" height="30.4" rx="1.5" fill="#fff" fill-opacity="0.85" stroke="#d0d0d0" stroke-width="0.8"/>
<rect x="257.7" y="218.20" width="15.3" height="6.6" rx="0.9" fill="#8fc8da" stroke="#12a0e8" stroke-width="1.4"/>
<text transform="translate(275.80,224.20) scale(1,1.1)" font-size="6.7" class="l">LLI</text>
<rect x="257.7" y="227.95" width="15.3" height="6.6" rx="0.9" fill="#e5914f" stroke="#f7862a" stroke-width="1.4"/>
<text transform="translate(275.80,233.95) scale(1,1.1)" font-size="6.7" class="l">LAM<tspan font-size="4.6" dy="1.6">A</tspan></text>
<rect x="257.7" y="237.70" width="15.3" height="6.6" rx="0.9" fill="#3ca562" stroke="#15902e" stroke-width="1.4"/>
<text transform="translate(275.80,243.70) scale(1,1.1)" font-size="6.7" class="l">LAM<tspan font-size="4.6" dy="1.6">C</tspan></text>
<rect x="254.5" y="214.2" width="71.0" height="75.0" fill="none" stroke="#646464" stroke-width="1.2"/>
<line x1="251.8" y1="289.2" x2="254.5" y2="289.2" stroke="#646464" stroke-width="0.8"/>
<line x1="322.8" y1="289.2" x2="325.5" y2="289.2" stroke="#646464" stroke-width="0.8"/>
<line x1="253.1" y1="279.8" x2="254.5" y2="279.8" stroke="#646464" stroke-width="0.8"/>
<line x1="324.1" y1="279.8" x2="325.5" y2="279.8" stroke="#646464" stroke-width="0.8"/>
<line x1="251.8" y1="270.4" x2="254.5" y2="270.4" stroke="#646464" stroke-width="0.8"/>
<line x1="322.8" y1="270.4" x2="325.5" y2="270.4" stroke="#646464" stroke-width="0.8"/>
<line x1="253.1" y1="261.1" x2="254.5" y2="261.1" stroke="#646464" stroke-width="0.8"/>
<line x1="324.1" y1="261.1" x2="325.5" y2="261.1" stroke="#646464" stroke-width="0.8"/>
<line x1="251.8" y1="251.7" x2="254.5" y2="251.7" stroke="#646464" stroke-width="0.8"/>
<line x1="322.8" y1="251.7" x2="325.5" y2="251.7" stroke="#646464" stroke-width="0.8"/>
<line x1="253.1" y1="242.3" x2="254.5" y2="242.3" stroke="#646464" stroke-width="0.8"/>
<line x1="324.1" y1="242.3" x2="325.5" y2="242.3" stroke="#646464" stroke-width="0.8"/>
<line x1="251.8" y1="232.9" x2="254.5" y2="232.9" stroke="#646464" stroke-width="0.8"/>
<line x1="322.8" y1="232.9" x2="325.5" y2="232.9" stroke="#646464" stroke-width="0.8"/>
<line x1="253.1" y1="223.6" x2="254.5" y2="223.6" stroke="#646464" stroke-width="0.8"/>
<line x1="324.1" y1="223.6" x2="325.5" y2="223.6" stroke="#646464" stroke-width="0.8"/>
<line x1="251.8" y1="214.2" x2="254.5" y2="214.2" stroke="#646464" stroke-width="0.8"/>
<line x1="322.8" y1="214.2" x2="325.5" y2="214.2" stroke="#646464" stroke-width="0.8"/>
<line x1="254.5" y1="289.2" x2="254.5" y2="291.9" stroke="#646464" stroke-width="0.8"/>
<line x1="254.5" y1="214.2" x2="254.5" y2="216.9" stroke="#646464" stroke-width="0.8"/>
<line x1="272.2" y1="289.2" x2="272.2" y2="290.8" stroke="#646464" stroke-width="0.8"/>
<line x1="272.2" y1="214.2" x2="272.2" y2="215.8" stroke="#646464" stroke-width="0.8"/>
<line x1="290.0" y1="289.2" x2="290.0" y2="291.9" stroke="#646464" stroke-width="0.8"/>
<line x1="290.0" y1="214.2" x2="290.0" y2="216.9" stroke="#646464" stroke-width="0.8"/>
<line x1="307.8" y1="289.2" x2="307.8" y2="290.8" stroke="#646464" stroke-width="0.8"/>
<line x1="307.8" y1="214.2" x2="307.8" y2="215.8" stroke="#646464" stroke-width="0.8"/>
<line x1="325.5" y1="289.2" x2="325.5" y2="291.9" stroke="#646464" stroke-width="0.8"/>
<line x1="325.5" y1="214.2" x2="325.5" y2="216.9" stroke="#646464" stroke-width="0.8"/>
<text transform="translate(254.50,302.10) scale(1,1.1)" font-size="9.3" text-anchor="middle">0</text>
<text transform="translate(290.00,302.10) scale(1,1.1)" font-size="9.3" text-anchor="middle">500</text>
<text transform="translate(326.30,302.10) scale(1,1.1)" font-size="9.3" text-anchor="middle">1000</text>
<text transform="translate(290.00,313.20) scale(1,1.1)" font-size="8.1" text-anchor="middle">Equivalent Cycles [#]</text>
<text transform="translate(290.70,328.80) scale(1,1.0)" font-size="10.5" text-anchor="middle" class="t">(h)</text>
<text transform="translate(290.00,188.35) scale(1,1.12)" font-size="11.0" text-anchor="middle" class="t">FD05</text>
<line x1="270.8" y1="198.1" x2="270.8" y2="210.9" stroke="#858585" stroke-width="1.35"/>
<line x1="295.8" y1="198.1" x2="295.8" y2="210.9" stroke="#858585" stroke-width="1.35"/>
<line x1="311.7" y1="198.1" x2="311.7" y2="210.9" stroke="#858585" stroke-width="1.35"/>
<text transform="translate(255.70,202.90) scale(1,1.1)" font-size="5.7" class="h">DoD</text>
<text transform="translate(255.70,209.30) scale(1,1.1)" font-size="5.7" class="h">100%</text>
<text transform="translate(283.50,202.90) scale(1,1.1)" font-size="5.7" text-anchor="middle" class="h">SoC</text>
<text transform="translate(283.50,209.30) scale(1,1.1)" font-size="5.7" text-anchor="middle" class="h">0 – 100%</text>
<text transform="translate(298.90,202.90) scale(1,1.1)" font-size="5.7" class="h">Chg</text>
<text transform="translate(298.90,209.30) scale(1,1.1)" font-size="5.7" class="h">C/3<tspan font-size="4.2" dx="0.3" dy="-2.5">1</tspan></text>
<text transform="translate(315.10,202.90) scale(1,1.1)" font-size="5.7" class="h">Dsg</text>
<text transform="translate(315.10,209.30) scale(1,1.1)" font-size="5.7" class="h">C/2</text>
<clipPath id="cpi"><rect x="361.0" y="214.2" width="71.0" height="75.0"/></clipPath>
<g clip-path="url(#cpi)">
<polygon points="360.8,289.2 360.8,289.2 361.4,286.7 363.8,281.4 367.6,277.1 372.4,273.3 378.1,270.4 383.9,266.6 387.7,265.6 390.1,266.6 392.5,267.8 396.4,258.5 399.9,261.3 403.5,259.1 407.1,251.4 410.1,252.5 414.3,258.5 417.9,256.7 424.4,249.6 427.4,250.5 431.3,247.4 431.3,289.2" fill="#3ca562"/>
<polygon points="360.8,289.2 360.8,289.2 361.4,286.7 363.8,281.4 367.6,277.1 372.4,273.3 378.1,270.4 383.9,266.6 387.7,265.6 390.1,266.6 392.5,268.0 395.3,266.1 400.5,264.9 406.5,263.9 410.1,263.3 414.3,265.7 420.9,259.1 425.6,265.1 431.3,263.3 431.3,289.2" fill="#e5914f"/>
<polygon points="360.8,289.2 360.8,289.2 361.4,287.6 363.8,283.3 367.6,280.0 372.4,277.1 378.1,274.2 383.9,271.8 388.7,271.4 392.5,273.3 394.6,271.3 400.5,272.0 406.5,270.5 410.1,269.9 414.3,271.3 420.9,267.7 425.6,272.9 428.0,272.5 431.3,271.3 431.3,289.2" fill="#8fc8da"/>
<polyline points="360.8,289.2 361.4,286.7 363.8,281.4 367.6,277.1 372.4,273.3 378.1,270.4 383.9,266.6 387.7,265.6 390.1,266.6 392.5,267.8 396.4,258.5 399.9,261.3 403.5,259.1 407.1,251.4 410.1,252.5 414.3,258.5 417.9,256.7 424.4,249.6 427.4,250.5 431.3,247.4" fill="none" stroke="#15902e" stroke-width="1.25" stroke-linejoin="round"/>
<polyline points="360.8,289.2 361.4,286.7 363.8,281.4 367.6,277.1 372.4,273.3 378.1,270.4 383.9,266.6 387.7,265.6 390.1,266.6 392.5,268.0 395.3,266.1 400.5,264.9 406.5,263.9 410.1,263.3 414.3,265.7 420.9,259.1 425.6,265.1 431.3,263.3" fill="none" stroke="#f7862a" stroke-width="1.25" stroke-linejoin="round"/>
<polyline points="360.8,289.2 361.4,287.6 363.8,283.3 367.6,280.0 372.4,277.1 378.1,274.2 383.9,271.8 388.7,271.4 392.5,273.3 394.6,271.3 400.5,272.0 406.5,270.5 410.1,269.9 414.3,271.3 420.9,267.7 425.6,272.9 428.0,272.5 431.3,271.3" fill="none" stroke="#12a0e8" stroke-width="1.45" stroke-linejoin="round"/>
<line x1="431.3" y1="247.4" x2="431.3" y2="263.3" stroke="#15902e" stroke-width="1.2"/>
<line x1="431.3" y1="263.3" x2="431.3" y2="271.3" stroke="#f7862a" stroke-width="1.2"/>
<line x1="431.3" y1="271.3" x2="431.3" y2="289.2" stroke="#12a0e8" stroke-width="1.2"/>
</g>
<rect x="362.2" y="216.6" width="39.4" height="30.4" rx="1.5" fill="#fff" fill-opacity="0.85" stroke="#d0d0d0" stroke-width="0.8"/>
<rect x="364.2" y="218.20" width="15.3" height="6.6" rx="0.9" fill="#8fc8da" stroke="#12a0e8" stroke-width="1.4"/>
<text transform="translate(382.30,224.20) scale(1,1.1)" font-size="6.7" class="l">LLI</text>
<rect x="364.2" y="227.95" width="15.3" height="6.6" rx="0.9" fill="#e5914f" stroke="#f7862a" stroke-width="1.4"/>
<text transform="translate(382.30,233.95) scale(1,1.1)" font-size="6.7" class="l">LAM<tspan font-size="4.6" dy="1.6">A</tspan></text>
<rect x="364.2" y="237.70" width="15.3" height="6.6" rx="0.9" fill="#3ca562" stroke="#15902e" stroke-width="1.4"/>
<text transform="translate(382.30,243.70) scale(1,1.1)" font-size="6.7" class="l">LAM<tspan font-size="4.6" dy="1.6">C</tspan></text>
<rect x="361.0" y="214.2" width="71.0" height="75.0" fill="none" stroke="#646464" stroke-width="1.2"/>
<line x1="358.3" y1="289.2" x2="361.0" y2="289.2" stroke="#646464" stroke-width="0.8"/>
<line x1="429.3" y1="289.2" x2="432.0" y2="289.2" stroke="#646464" stroke-width="0.8"/>
<line x1="359.6" y1="279.8" x2="361.0" y2="279.8" stroke="#646464" stroke-width="0.8"/>
<line x1="430.6" y1="279.8" x2="432.0" y2="279.8" stroke="#646464" stroke-width="0.8"/>
<line x1="358.3" y1="270.4" x2="361.0" y2="270.4" stroke="#646464" stroke-width="0.8"/>
<line x1="429.3" y1="270.4" x2="432.0" y2="270.4" stroke="#646464" stroke-width="0.8"/>
<line x1="359.6" y1="261.1" x2="361.0" y2="261.1" stroke="#646464" stroke-width="0.8"/>
<line x1="430.6" y1="261.1" x2="432.0" y2="261.1" stroke="#646464" stroke-width="0.8"/>
<line x1="358.3" y1="251.7" x2="361.0" y2="251.7" stroke="#646464" stroke-width="0.8"/>
<line x1="429.3" y1="251.7" x2="432.0" y2="251.7" stroke="#646464" stroke-width="0.8"/>
<line x1="359.6" y1="242.3" x2="361.0" y2="242.3" stroke="#646464" stroke-width="0.8"/>
<line x1="430.6" y1="242.3" x2="432.0" y2="242.3" stroke="#646464" stroke-width="0.8"/>
<line x1="358.3" y1="232.9" x2="361.0" y2="232.9" stroke="#646464" stroke-width="0.8"/>
<line x1="429.3" y1="232.9" x2="432.0" y2="232.9" stroke="#646464" stroke-width="0.8"/>
<line x1="359.6" y1="223.6" x2="361.0" y2="223.6" stroke="#646464" stroke-width="0.8"/>
<line x1="430.6" y1="223.6" x2="432.0" y2="223.6" stroke="#646464" stroke-width="0.8"/>
<line x1="358.3" y1="214.2" x2="361.0" y2="214.2" stroke="#646464" stroke-width="0.8"/>
<line x1="429.3" y1="214.2" x2="432.0" y2="214.2" stroke="#646464" stroke-width="0.8"/>
<line x1="361.0" y1="289.2" x2="361.0" y2="291.9" stroke="#646464" stroke-width="0.8"/>
<line x1="361.0" y1="214.2" x2="361.0" y2="216.9" stroke="#646464" stroke-width="0.8"/>
<line x1="378.8" y1="289.2" x2="378.8" y2="290.8" stroke="#646464" stroke-width="0.8"/>
<line x1="378.8" y1="214.2" x2="378.8" y2="215.8" stroke="#646464" stroke-width="0.8"/>
<line x1="396.5" y1="289.2" x2="396.5" y2="291.9" stroke="#646464" stroke-width="0.8"/>
<line x1="396.5" y1="214.2" x2="396.5" y2="216.9" stroke="#646464" stroke-width="0.8"/>
<line x1="414.2" y1="289.2" x2="414.2" y2="290.8" stroke="#646464" stroke-width="0.8"/>
<line x1="414.2" y1="214.2" x2="414.2" y2="215.8" stroke="#646464" stroke-width="0.8"/>
<line x1="432.0" y1="289.2" x2="432.0" y2="291.9" stroke="#646464" stroke-width="0.8"/>
<line x1="432.0" y1="214.2" x2="432.0" y2="216.9" stroke="#646464" stroke-width="0.8"/>
<text transform="translate(361.00,302.10) scale(1,1.1)" font-size="9.3" text-anchor="middle">0</text>
<text transform="translate(396.50,302.10) scale(1,1.1)" font-size="9.3" text-anchor="middle">500</text>
<text transform="translate(432.80,302.10) scale(1,1.1)" font-size="9.3" text-anchor="middle">1000</text>
<text transform="translate(396.50,313.20) scale(1,1.1)" font-size="8.1" text-anchor="middle">Equivalent Cycles [#]</text>
<text transform="translate(397.20,328.80) scale(1,1.0)" font-size="10.5" text-anchor="middle" class="t">(i)</text>
<text transform="translate(396.50,188.35) scale(1,1.12)" font-size="11.0" text-anchor="middle" class="t">FD1</text>
<line x1="377.3" y1="198.1" x2="377.3" y2="210.9" stroke="#858585" stroke-width="1.35"/>
<line x1="402.3" y1="198.1" x2="402.3" y2="210.9" stroke="#858585" stroke-width="1.35"/>
<line x1="418.2" y1="198.1" x2="418.2" y2="210.9" stroke="#858585" stroke-width="1.35"/>
<text transform="translate(362.20,202.90) scale(1,1.1)" font-size="5.7" class="h">DoD</text>
<text transform="translate(362.20,209.30) scale(1,1.1)" font-size="5.7" class="h">100%</text>
<text transform="translate(390.00,202.90) scale(1,1.1)" font-size="5.7" text-anchor="middle" class="h">SoC</text>
<text transform="translate(390.00,209.30) scale(1,1.1)" font-size="5.7" text-anchor="middle" class="h">0 – 100%</text>
<text transform="translate(405.40,202.90) scale(1,1.1)" font-size="5.7" class="h">Chg</text>
<text transform="translate(405.40,209.30) scale(1,1.1)" font-size="5.7" class="h">C/3<tspan font-size="4.2" dx="0.3" dy="-2.5">1</tspan></text>
<text transform="translate(421.60,202.90) scale(1,1.1)" font-size="5.7" class="h">Dsg</text>
<text transform="translate(421.60,209.30) scale(1,1.1)" font-size="5.7" class="h">1C</text>
<clipPath id="cpj"><rect x="467.5" y="214.2" width="71.0" height="75.0"/></clipPath>
<g clip-path="url(#cpj)">
<polygon points="467.2,289.2 467.2,289.2 468.4,288.0 471.8,283.3 476.5,279.5 481.3,276.1 486.1,273.0 490.9,269.9 494.7,267.6 498.5,267.6 500.0,266.6 503.0,262.7 506.0,258.7 509.0,257.9 511.9,256.4 514.9,252.7 519.4,246.0 522.4,240.5 523.8,238.2 528.5,232.2 531.9,226.1 535.2,220.1 537.8,214.7 537.8,289.2" fill="#3ca562"/>
<polygon points="467.2,289.2 467.2,289.2 468.4,288.0 471.8,283.3 476.5,279.5 481.3,276.1 486.1,273.2 490.9,270.4 494.7,269.3 498.5,269.9 500.0,267.8 503.0,264.3 506.0,260.9 511.2,266.1 514.9,264.6 520.9,263.6 525.4,264.6 529.9,265.4 534.3,262.4 537.8,263.9 537.8,289.2" fill="#e5914f"/>
<polygon points="467.2,289.2 467.2,289.2 468.4,288.4 471.8,284.3 476.5,280.5 481.3,277.1 486.1,274.2 490.9,271.8 494.7,270.4 498.5,271.4 500.0,269.6 503.0,266.6 506.0,263.9 511.2,267.6 514.9,269.9 519.4,269.1 524.6,271.3 529.9,272.8 532.8,274.0 535.8,273.6 537.8,274.6 537.8,289.2" fill="#8fc8da"/>
<polyline points="467.2,289.2 468.4,288.0 471.8,283.3 476.5,279.5 481.3,276.1 486.1,273.0 490.9,269.9 494.7,267.6 498.5,267.6 500.0,266.6 503.0,262.7 506.0,258.7 509.0,257.9 511.9,256.4 514.9,252.7 519.4,246.0 522.4,240.5 523.8,238.2 528.5,232.2 531.9,226.1 535.2,220.1 537.8,214.7" fill="none" stroke="#15902e" stroke-width="1.25" stroke-linejoin="round"/>
<polyline points="467.2,289.2 468.4,288.0 471.8,283.3 476.5,279.5 481.3,276.1 486.1,273.2 490.9,270.4 494.7,269.3 498.5,269.9 500.0,267.8 503.0,264.3 506.0,260.9 511.2,266.1 514.9,264.6 520.9,263.6 525.4,264.6 529.9,265.4 534.3,262.4 537.8,263.9" fill="none" stroke="#f7862a" stroke-width="1.25" stroke-linejoin="round"/>
<polyline points="467.2,289.2 468.4,288.4 471.8,284.3 476.5,280.5 481.3,277.1 486.1,274.2 490.9,271.8 494.7,270.4 498.5,271.4 500.0,269.6 503.0,266.6 506.0,263.9 511.2,267.6 514.9,269.9 519.4,269.1 524.6,271.3 529.9,272.8 532.8,274.0 535.8,273.6 537.8,274.6" fill="none" stroke="#12a0e8" stroke-width="1.45" stroke-linejoin="round"/>
<line x1="537.8" y1="214.7" x2="537.8" y2="263.9" stroke="#15902e" stroke-width="1.2"/>
<line x1="537.8" y1="263.9" x2="537.8" y2="274.6" stroke="#f7862a" stroke-width="1.2"/>
<line x1="537.8" y1="274.6" x2="537.8" y2="289.2" stroke="#12a0e8" stroke-width="1.2"/>
</g>
<rect x="468.7" y="216.6" width="39.4" height="30.4" rx="1.5" fill="#fff" fill-opacity="0.85" stroke="#d0d0d0" stroke-width="0.8"/>
<rect x="470.7" y="218.20" width="15.3" height="6.6" rx="0.9" fill="#8fc8da" stroke="#12a0e8" stroke-width="1.4"/>
<text transform="translate(488.80,224.20) scale(1,1.1)" font-size="6.7" class="l">LLI</text>
<rect x="470.7" y="227.95" width="15.3" height="6.6" rx="0.9" fill="#e5914f" stroke="#f7862a" stroke-width="1.4"/>
<text transform="translate(488.80,233.95) scale(1,1.1)" font-size="6.7" class="l">LAM<tspan font-size="4.6" dy="1.6">A</tspan></text>
<rect x="470.7" y="237.70" width="15.3" height="6.6" rx="0.9" fill="#3ca562" stroke="#15902e" stroke-width="1.4"/>
<text transform="translate(488.80,243.70) scale(1,1.1)" font-size="6.7" class="l">LAM<tspan font-size="4.6" dy="1.6">C</tspan></text>
<rect x="467.5" y="214.2" width="71.0" height="75.0" fill="none" stroke="#646464" stroke-width="1.2"/>
<line x1="464.8" y1="289.2" x2="467.5" y2="289.2" stroke="#646464" stroke-width="0.8"/>
<line x1="535.8" y1="289.2" x2="538.5" y2="289.2" stroke="#646464" stroke-width="0.8"/>
<line x1="466.1" y1="279.8" x2="467.5" y2="279.8" stroke="#646464" stroke-width="0.8"/>
<line x1="537.1" y1="279.8" x2="538.5" y2="279.8" stroke="#646464" stroke-width="0.8"/>
<line x1="464.8" y1="270.4" x2="467.5" y2="270.4" stroke="#646464" stroke-width="0.8"/>
<line x1="535.8" y1="270.4" x2="538.5" y2="270.4" stroke="#646464" stroke-width="0.8"/>
<line x1="466.1" y1="261.1" x2="467.5" y2="261.1" stroke="#646464" stroke-width="0.8"/>
<line x1="537.1" y1="261.1" x2="538.5" y2="261.1" stroke="#646464" stroke-width="0.8"/>
<line x1="464.8" y1="251.7" x2="467.5" y2="251.7" stroke="#646464" stroke-width="0.8"/>
<line x1="535.8" y1="251.7" x2="538.5" y2="251.7" stroke="#646464" stroke-width="0.8"/>
<line x1="466.1" y1="242.3" x2="467.5" y2="242.3" stroke="#646464" stroke-width="0.8"/>
<line x1="537.1" y1="242.3" x2="538.5" y2="242.3" stroke="#646464" stroke-width="0.8"/>
<line x1="464.8" y1="232.9" x2="467.5" y2="232.9" stroke="#646464" stroke-width="0.8"/>
<line x1="535.8" y1="232.9" x2="538.5" y2="232.9" stroke="#646464" stroke-width="0.8"/>
<line x1="466.1" y1="223.6" x2="467.5" y2="223.6" stroke="#646464" stroke-width="0.8"/>
<line x1="537.1" y1="223.6" x2="538.5" y2="223.6" stroke="#646464" stroke-width="0.8"/>
<line x1="464.8" y1="214.2" x2="467.5" y2="214.2" stroke="#646464" stroke-width="0.8"/>
<line x1="535.8" y1="214.2" x2="538.5" y2="214.2" stroke="#646464" stroke-width="0.8"/>
<line x1="467.5" y1="289.2" x2="467.5" y2="291.9" stroke="#646464" stroke-width="0.8"/>
<line x1="467.5" y1="214.2" x2="467.5" y2="216.9" stroke="#646464" stroke-width="0.8"/>
<line x1="485.2" y1="289.2" x2="485.2" y2="290.8" stroke="#646464" stroke-width="0.8"/>
<line x1="485.2" y1="214.2" x2="485.2" y2="215.8" stroke="#646464" stroke-width="0.8"/>
<line x1="503.0" y1="289.2" x2="503.0" y2="291.9" stroke="#646464" stroke-width="0.8"/>
<line x1="503.0" y1="214.2" x2="503.0" y2="216.9" stroke="#646464" stroke-width="0.8"/>
<line x1="520.8" y1="289.2" x2="520.8" y2="290.8" stroke="#646464" stroke-width="0.8"/>
<line x1="520.8" y1="214.2" x2="520.8" y2="215.8" stroke="#646464" stroke-width="0.8"/>
<line x1="538.5" y1="289.2" x2="538.5" y2="291.9" stroke="#646464" stroke-width="0.8"/>
<line x1="538.5" y1="214.2" x2="538.5" y2="216.9" stroke="#646464" stroke-width="0.8"/>
<text transform="translate(467.50,302.10) scale(1,1.1)" font-size="9.3" text-anchor="middle">0</text>
<text transform="translate(503.00,302.10) scale(1,1.1)" font-size="9.3" text-anchor="middle">450</text>
<text transform="translate(538.50,302.10) scale(1,1.1)" font-size="9.3" text-anchor="middle">900</text>
<text transform="translate(503.00,313.20) scale(1,1.1)" font-size="8.1" text-anchor="middle">Equivalent Cycles [#]</text>
<text transform="translate(503.70,328.80) scale(1,1.0)" font-size="10.5" text-anchor="middle" class="t">(j)</text>
<text transform="translate(503.00,188.35) scale(1,1.12)" font-size="11.0" text-anchor="middle" class="t">FD2</text>
<line x1="483.8" y1="198.1" x2="483.8" y2="210.9" stroke="#858585" stroke-width="1.35"/>
<line x1="508.8" y1="198.1" x2="508.8" y2="210.9" stroke="#858585" stroke-width="1.35"/>
<line x1="524.7" y1="198.1" x2="524.7" y2="210.9" stroke="#858585" stroke-width="1.35"/>
<text transform="translate(468.70,202.90) scale(1,1.1)" font-size="5.7" class="h">DoD</text>
<text transform="translate(468.70,209.30) scale(1,1.1)" font-size="5.7" class="h">100%</text>
<text transform="translate(496.50,202.90) scale(1,1.1)" font-size="5.7" text-anchor="middle" class="h">SoC</text>
<text transform="translate(496.50,209.30) scale(1,1.1)" font-size="5.7" text-anchor="middle" class="h">0 – 100%</text>
<text transform="translate(511.90,202.90) scale(1,1.1)" font-size="5.7" class="h">Chg</text>
<text transform="translate(511.90,209.30) scale(1,1.1)" font-size="5.7" class="h">C/3<tspan font-size="4.2" dx="0.3" dy="-2.5">1</tspan></text>
<text transform="translate(528.10,202.90) scale(1,1.1)" font-size="5.7" class="h">Dsg</text>
<text transform="translate(528.10,209.30) scale(1,1.1)" font-size="5.7" class="h">2C</text>
</svg></body></html>
